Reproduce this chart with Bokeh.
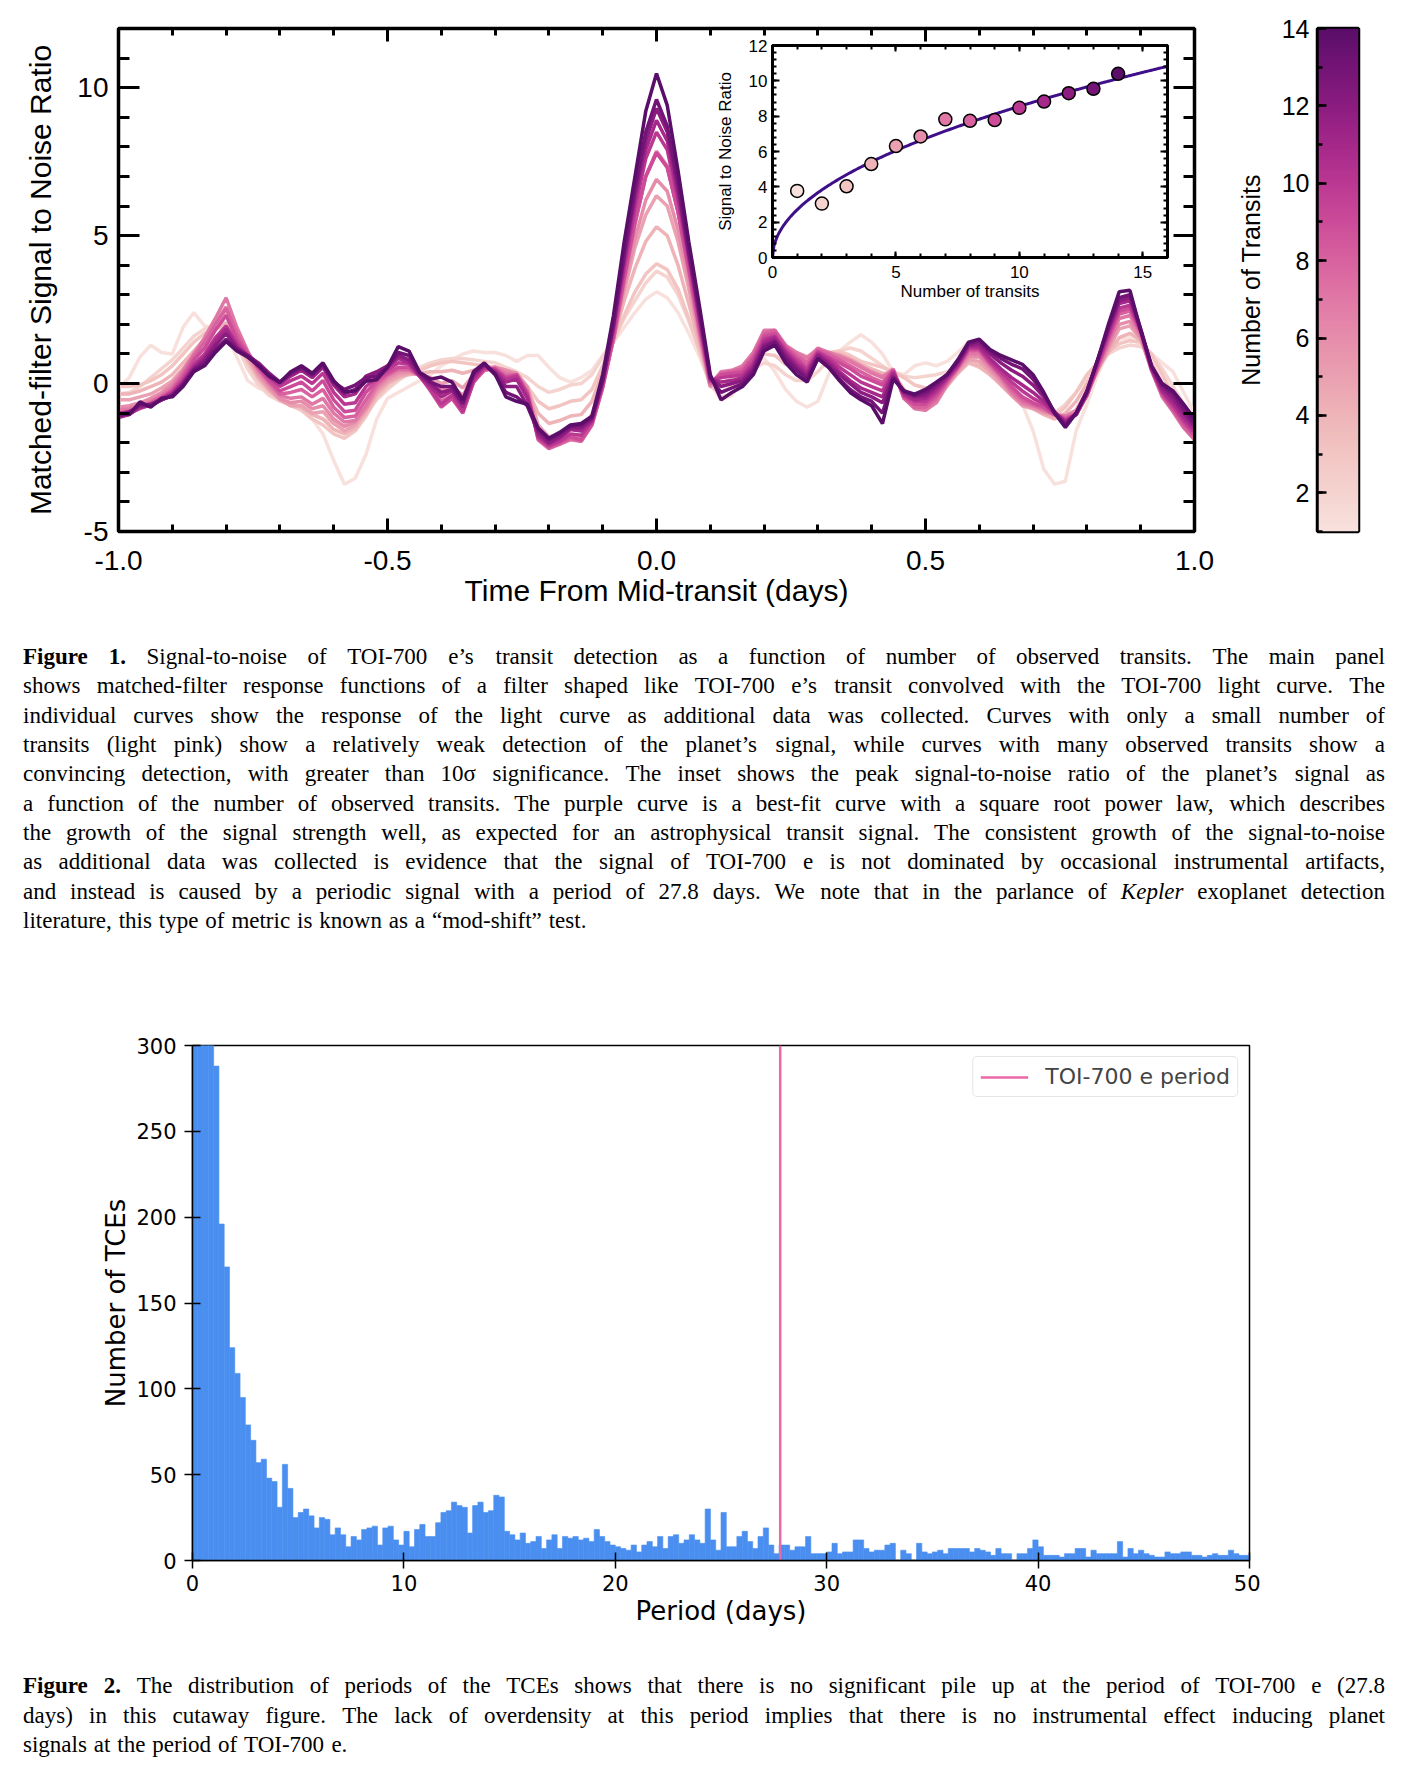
import numpy as np
from bokeh.plotting import figure
from bokeh.models import (Range1d, LinearAxis, SingleIntervalTicker, PrintfTickFormatter,
                          CustomJSTickFormatter, ColumnDataSource, LinearColorMapper, Legend, LegendItem)
from bokeh.layouts import column, row
from bokeh.transform import linear_cmap
from bokeh.core.properties import value
from bokeh.embed import file_html
from bokeh.resources import INLINE

# ---------------------------------------------------------------- data
time_days = [round(-1.0 + 0.02 * i, 2) for i in range(101)]
n_transits = list(range(1, 15))

snr_n1 = [-0.15, 0.20, 0.90, 1.30, 1.05, 1.00, 1.90, 2.40, 1.95, 1.90,
          1.70, 0.90, 0.10, -0.15, -0.25, -0.35, -0.55, -0.90, -1.20, -1.70,
          -2.60, -3.40, -3.20, -2.40, -1.20, -0.50, -0.30, -0.10, 0.10, 0.30,
          0.60, 0.80, 1.00, 1.10, 1.05, 1.05, 0.95, 0.75, 0.95, 0.95,
          0.55, 0.20, 0.05, 0.20, 0.45, 0.95, 1.40, 1.90, 2.40, 2.85,
          3.10, 2.90, 2.40, 1.70, 0.90, 0.00, -0.55, -0.40, 0.20, 0.75,
          0.85, 0.40, -0.20, -0.60, -0.80, -0.60, 0.30, 1.10, 1.40, 1.65,
          1.40, 1.00, 0.40, 0.30, 0.60, 0.70, 0.60, 0.75, 1.05, 1.40,
          0.55, 0.30, 0.30, -0.10, -0.70, -1.60, -2.90, -3.40, -3.30, -1.60,
          -0.70, 0.30, 1.10, 1.50, 1.55, 1.30, 1.00, 0.70, 0.40, -0.30,
          -1.00]
snr_n2 = [-0.35, -0.30, -0.10, 0.20, 0.50, 0.80, 1.20, 1.60, 1.85, 1.95,
          1.85, 1.30, 0.50, -0.05, -0.40, -0.60, -0.70, -0.80, -1.00, -1.20,
          -1.35, -1.45, -1.30, -0.95, -0.55, -0.20, 0.10, 0.35, 0.55, 0.70,
          0.80, 0.85, 0.85, 0.80, 0.75, 0.70, 0.55, 0.40, 0.20, -0.10,
          -0.30, -0.20, -0.05, 0.00, 0.30, 0.90, 1.50, 2.20, 2.80, 3.40,
          3.80, 3.60, 3.00, 2.10, 1.10, 0.05, -0.45, -0.35, 0.05, 0.50,
          0.70, 0.60, 0.30, 0.10, 0.10, 0.40, 0.80, 1.10, 1.20, 1.10,
          0.85, 0.60, 0.35, 0.25, 0.20, 0.25, 0.30, 0.40, 0.55, 0.75,
          0.70, 0.35, 0.05, -0.20, -0.45, -0.65, -0.85, -1.00, -0.70, -0.30,
          0.20, 0.65, 1.00, 1.20, 1.30, 1.25, 1.00, 0.50, -0.10, -0.70,
          -1.20]
snr_n3 = [-0.10, -0.10, -0.05, 0.10, 0.30, 0.60, 1.00, 1.40, 1.70, 1.90,
          1.90, 1.40, 0.70, 0.10, -0.30, -0.55, -0.75, -0.90, -1.20, -1.40,
          -1.70, -1.85, -1.60, -1.10, -0.50, -0.10, 0.15, 0.35, 0.45, 0.60,
          0.70, 0.75, 0.70, 0.65, 0.60, 0.55, 0.35, 0.15, -0.10, -0.60,
          -0.85, -0.75, -0.60, -0.55, -0.20, 0.60, 1.40, 2.30, 3.10, 3.70,
          4.05, 3.85, 3.20, 2.20, 1.10, -0.10, -0.30, -0.10, 0.30, 0.70,
          1.00, 0.95, 0.65, 0.55, 0.60, 0.85, 1.05, 1.10, 0.95, 0.75,
          0.65, 0.55, 0.40, 0.20, -0.05, -0.15, -0.10, 0.10, 0.35, 0.70,
          0.55, 0.30, 0.00, -0.30, -0.55, -0.75, -1.00, -1.10, -0.80, -0.30,
          0.30, 0.70, 1.05, 1.35, 1.45, 1.40, 1.00, 0.30, -0.40, -1.00,
          -1.50]
snr_n4 = [-0.35, -0.35, -0.25, -0.10, 0.05, 0.30, 0.70, 1.10, 1.50, 1.85,
          2.05, 1.50, 0.80, 0.20, -0.20, -0.50, -0.70, -0.80, -1.05, -1.20,
          -1.55, -1.70, -1.50, -1.00, -0.40, 0.00, 0.20, 0.30, 0.35, 0.40,
          0.40, 0.45, 0.35, 0.45, 0.55, 0.55, 0.40, 0.20, -0.20, -1.00,
          -1.35, -1.25, -1.10, -1.05, -0.60, 0.40, 1.50, 2.80, 3.90, 4.80,
          5.30, 5.00, 4.00, 2.70, 1.30, -0.05, 0.00, 0.15, 0.40, 0.85,
          1.30, 1.30, 0.95, 0.85, 0.85, 1.00, 1.05, 1.00, 0.85, 0.65,
          0.50, 0.35, 0.35, -0.20, -0.55, -0.65, -0.55, -0.10, 0.35, 0.70,
          0.60, 0.30, -0.05, -0.40, -0.70, -0.85, -1.05, -1.20, -1.00, -0.60,
          0.00, 0.50, 1.05, 1.55, 1.70, 1.45, 0.70, 0.00, -0.55, -1.10,
          -1.60]
snr_n5 = [-0.55, -0.55, -0.45, -0.35, -0.15, 0.10, 0.50, 1.00, 1.50, 2.00,
          2.40, 1.70, 0.90, 0.25, -0.20, -0.55, -0.75, -0.75, -1.00, -0.95,
          -1.35, -1.60, -1.40, -0.90, -0.30, 0.05, 0.25, 0.35, 0.30, 0.20,
          0.00, 0.10, -0.15, 0.30, 0.50, 0.55, 0.45, 0.35, -0.10, -1.40,
          -1.80, -1.70, -1.55, -1.55, -1.05, 0.15, 1.50, 3.10, 4.60, 5.70,
          6.35, 6.00, 4.80, 3.20, 1.50, -0.10, 0.20, 0.35, 0.55, 1.00,
          1.55, 1.55, 1.15, 0.95, 0.90, 1.05, 1.00, 0.90, 0.75, 0.55,
          0.40, 0.25, 0.40, -0.40, -0.75, -0.85, -0.65, -0.05, 0.40, 0.80,
          0.75, 0.40, 0.00, -0.40, -0.75, -0.85, -1.00, -1.10, -1.10, -0.90,
          -0.25, 0.45, 1.15, 1.85, 1.95, 1.50, 0.50, -0.30, -0.85, -1.40,
          -1.80]
snr_n6 = [-0.80, -0.75, -0.65, -0.50, -0.30, 0.00, 0.45, 1.00, 1.50, 2.05,
          2.60, 1.80, 1.00, 0.35, -0.10, -0.50, -0.65, -0.60, -0.85, -0.75,
          -1.20, -1.45, -1.30, -0.85, -0.20, 0.15, 0.35, 0.40, 0.30, 0.10,
          -0.20, -0.10, -0.40, 0.20, 0.45, 0.55, 0.45, 0.35, -0.15, -1.70,
          -2.05, -1.95, -1.80, -1.85, -1.30, 0.00, 1.50, 3.30, 4.90, 6.20,
          6.90, 6.50, 5.20, 3.50, 1.60, -0.10, 0.30, 0.40, 0.60, 1.05,
          1.70, 1.70, 1.25, 1.05, 0.90, 1.15, 1.05, 0.95, 0.80, 0.60,
          0.40, 0.25, 0.45, -0.45, -0.80, -0.90, -0.65, -0.05, 0.45, 0.90,
          0.90, 0.50, 0.10, -0.35, -0.70, -0.80, -0.95, -1.05, -1.10, -0.90,
          -0.35, 0.45, 1.25, 2.00, 2.10, 1.55, 0.45, -0.40, -0.90, -1.45,
          -1.85]
snr_n7 = [-0.90, -0.85, -0.75, -0.60, -0.40, -0.10, 0.40, 1.00, 1.55, 2.20,
          2.90, 1.90, 1.10, 0.45, 0.00, -0.40, -0.50, -0.45, -0.70, -0.50,
          -1.00, -1.30, -1.25, -0.75, -0.10, 0.25, 0.45, 0.45, 0.30, -0.05,
          -0.40, -0.25, -0.60, 0.10, 0.45, 0.55, 0.35, 0.30, -0.25, -1.85,
          -2.15, -2.05, -1.90, -1.95, -1.40, -0.10, 1.50, 3.50, 5.40, 7.00,
          7.85, 7.35, 5.80, 3.80, 1.70, -0.05, 0.40, 0.45, 0.60, 1.05,
          1.80, 1.80, 1.30, 1.05, 0.85, 1.20, 1.05, 0.90, 0.75, 0.55,
          0.35, 0.20, 0.50, -0.50, -0.85, -0.90, -0.60, 0.00, 0.50, 1.00,
          1.00, 0.60, 0.20, -0.30, -0.65, -0.75, -0.90, -1.05, -1.10, -1.00,
          -0.40, 0.50, 1.35, 2.20, 2.30, 1.65, 0.45, -0.45, -0.95, -1.50,
          -1.90]
snr_n8 = [-1.00, -0.95, -0.80, -0.65, -0.45, -0.20, 0.30, 0.90, 1.40, 2.00,
          2.55, 1.70, 1.05, 0.50, 0.05, -0.35, -0.30, -0.20, -0.45, -0.20,
          -0.80, -1.15, -1.10, -0.55, 0.00, 0.30, 0.50, 0.50, 0.25, -0.15,
          -0.60, -0.40, -0.85, 0.05, 0.45, 0.50, 0.25, 0.30, -0.30, -1.90,
          -2.20, -2.05, -1.85, -1.95, -1.40, -0.15, 1.50, 3.50, 5.40, 7.00,
          7.80, 7.30, 5.80, 3.80, 1.80, 0.00, 0.35, 0.40, 0.50, 0.95,
          1.70, 1.80, 1.25, 0.95, 0.70, 1.15, 1.00, 0.80, 0.60, 0.40,
          0.20, 0.05, 0.45, -0.50, -0.80, -0.80, -0.50, 0.05, 0.55, 1.10,
          1.10, 0.65, 0.25, -0.20, -0.55, -0.70, -0.85, -1.05, -1.15, -1.05,
          -0.40, 0.55, 1.45, 2.35, 2.45, 1.70, 0.50, -0.40, -0.90, -1.45,
          -1.85]
snr_n9 = [-1.10, -1.00, -0.85, -0.70, -0.50, -0.25, 0.20, 0.80, 1.20, 1.80,
          2.30, 1.50, 1.00, 0.55, 0.10, -0.25, -0.10, 0.05, -0.25, 0.10,
          -0.55, -0.95, -0.90, -0.30, 0.10, 0.35, 0.55, 0.55, 0.25, -0.25,
          -0.80, -0.50, -1.00, 0.05, 0.50, 0.50, 0.20, 0.30, -0.35, -1.85,
          -2.15, -2.00, -1.80, -1.90, -1.35, -0.10, 1.60, 3.60, 5.50, 7.00,
          7.80, 7.30, 5.80, 3.90, 1.90, 0.05, 0.30, 0.35, 0.40, 0.85,
          1.60, 1.70, 1.20, 0.85, 0.55, 1.10, 0.90, 0.70, 0.50, 0.25,
          0.10, -0.05, 0.45, -0.45, -0.70, -0.70, -0.40, 0.10, 0.55, 1.15,
          1.15, 0.70, 0.30, -0.10, -0.45, -0.65, -0.80, -1.05, -1.20, -1.05,
          -0.40, 0.60, 1.55, 2.45, 2.55, 1.75, 0.50, -0.35, -0.85, -1.35,
          -1.75]
snr_n10 = [-1.00, -0.95, -0.80, -0.70, -0.50, -0.30, 0.10, 0.65, 1.00, 1.55,
           1.95, 1.35, 0.95, 0.60, 0.20, -0.10, 0.10, 0.25, 0.00, 0.35,
           -0.30, -0.70, -0.65, -0.10, 0.20, 0.45, 0.70, 0.65, 0.25, -0.20,
           -0.70, -0.40, -0.95, 0.10, 0.55, 0.45, 0.15, 0.25, -0.40, -1.80,
           -2.10, -1.95, -1.70, -1.75, -1.30, 0.00, 1.80, 3.90, 5.90, 7.60,
           8.50, 7.90, 6.20, 4.20, 2.10, 0.10, 0.20, 0.25, 0.30, 0.70,
           1.50, 1.60, 1.10, 0.75, 0.45, 1.05, 0.85, 0.55, 0.30, 0.05,
           -0.10, -0.25, 0.40, -0.40, -0.60, -0.60, -0.30, 0.15, 0.60, 1.20,
           1.20, 0.75, 0.40, 0.05, -0.25, -0.50, -0.70, -1.00, -1.25, -1.05,
           -0.35, 0.65, 1.65, 2.55, 2.65, 1.80, 0.50, -0.30, -0.75, -1.25,
           -1.65]
snr_n11 = [-1.15, -1.05, -0.80, -0.75, -0.55, -0.35, 0.05, 0.55, 0.90, 1.45,
           1.85, 1.25, 0.90, 0.65, 0.30, 0.00, 0.25, 0.45, 0.20, 0.55,
           -0.05, -0.45, -0.35, 0.15, 0.35, 0.55, 0.85, 0.70, 0.25, -0.10,
           -0.45, -0.25, -0.80, 0.20, 0.60, 0.40, 0.05, 0.15, -0.50, -1.75,
           -2.05, -1.85, -1.55, -1.60, -1.25, 0.10, 1.90, 4.10, 6.20, 7.90,
           8.90, 8.20, 6.40, 4.30, 2.20, 0.15, 0.05, 0.10, 0.20, 0.60,
           1.40, 1.55, 1.05, 0.65, 0.35, 1.00, 0.75, 0.40, 0.10, -0.15,
           -0.30, -0.45, 0.35, -0.35, -0.55, -0.50, -0.20, 0.20, 0.65, 1.25,
           1.25, 0.85, 0.50, 0.20, -0.05, -0.30, -0.60, -1.00, -1.30, -1.05,
           -0.30, 0.75, 1.75, 2.70, 2.80, 1.80, 0.50, -0.25, -0.65, -1.15,
           -1.55]
snr_n12 = [-1.05, -0.95, -0.75, -0.70, -0.55, -0.40, 0.00, 0.50, 0.80, 1.30,
           1.70, 1.20, 0.95, 0.70, 0.35, 0.05, 0.30, 0.50, 0.25, 0.60,
           0.00, -0.35, -0.20, 0.25, 0.40, 0.60, 0.95, 0.80, 0.30, 0.00,
           -0.30, -0.20, -0.70, 0.30, 0.65, 0.35, -0.10, -0.10, -0.75, -1.65,
           -2.00, -1.80, -1.50, -1.50, -1.20, 0.10, 2.00, 4.30, 6.40, 8.20,
           9.30, 8.50, 6.60, 4.40, 2.30, 0.20, -0.10, 0.00, 0.10, 0.50,
           1.30, 1.45, 0.95, 0.55, 0.25, 0.95, 0.65, 0.30, 0.00, -0.30,
           -0.45, -0.65, 0.25, -0.30, -0.45, -0.40, -0.10, 0.25, 0.70, 1.30,
           1.35, 1.00, 0.70, 0.45, 0.25, -0.05, -0.45, -0.95, -1.35, -1.00,
           -0.25, 0.80, 1.85, 2.80, 2.90, 1.80, 0.55, -0.15, -0.50, -1.00,
           -1.45]
snr_n13 = [-1.10, -1.00, -0.70, -0.75, -0.55, -0.40, -0.05, 0.45, 0.70, 1.15,
           1.50, 1.15, 0.95, 0.65, 0.30, 0.05, 0.35, 0.55, 0.30, 0.65,
           0.05, -0.20, -0.05, 0.20, 0.25, 0.55, 1.05, 0.95, 0.35, 0.05,
           -0.10, -0.10, -0.65, 0.35, 0.65, 0.30, -0.30, -0.45, -0.75, -1.55,
           -1.90, -1.70, -1.45, -1.40, -1.15, 0.10, 2.00, 4.40, 6.60, 8.50,
           9.60, 8.70, 6.80, 4.50, 2.40, 0.20, -0.30, -0.15, 0.00, 0.40,
           1.20, 1.40, 0.85, 0.45, 0.15, 0.85, 0.55, 0.15, -0.20, -0.45,
           -0.60, -1.00, 0.20, -0.25, -0.40, -0.30, 0.00, 0.30, 0.75, 1.35,
           1.45, 1.10, 0.85, 0.65, 0.50, 0.15, -0.35, -1.00, -1.40, -1.00,
           -0.25, 0.80, 1.90, 2.90, 3.00, 1.85, 0.60, -0.05, -0.35, -0.85,
           -1.35]
snr_n14 = [-1.00, -1.05, -0.62, -0.80, -0.50, -0.45, -0.10, 0.40, 0.60, 1.05,
           1.42, 1.10, 0.90, 0.60, 0.25, 0.04, 0.40, 0.60, 0.35, 0.70,
           0.10, -0.28, -0.25, 0.08, 0.13, 0.55, 1.25, 1.10, 0.37, 0.15,
           0.22, 0.05, -0.55, 0.40, 0.70, 0.32, -0.45, -0.60, -0.70, -1.50,
           -1.85, -1.65, -1.40, -1.35, -1.10, 0.30, 2.30, 4.80, 7.00, 9.20,
           10.48, 9.40, 7.20, 4.80, 2.60, 0.30, -0.55, -0.30, -0.10, 0.30,
           1.10, 1.30, 0.70, 0.30, 0.05, 0.85, 0.55, 0.10, -0.30, -0.55,
           -0.75, -1.35, 0.15, -0.25, -0.36, -0.20, 0.05, 0.30, 0.80, 1.40,
           1.50, 1.15, 0.95, 0.80, 0.65, 0.30, -0.30, -1.00, -1.48, -1.00,
           -0.30, 0.80, 2.00, 3.10, 3.15, 1.80, 0.60, 0.00, -0.25, -0.70,
           -1.20]
snr_curves = [snr_n1, snr_n2, snr_n3, snr_n4, snr_n5, snr_n6, snr_n7,
              snr_n8, snr_n9, snr_n10, snr_n11, snr_n12, snr_n13, snr_n14]

# inset: peak SNR vs number of transits
inset_transits = list(range(1, 15))
inset_snr = [3.77, 3.05, 4.03, 5.29, 6.31, 6.85, 7.82, 7.74, 7.78, 8.47, 8.83, 9.30, 9.55, 10.40]

# histogram of TCE periods (0.25-day bins from 0 to 50 days)
period_bin_width = 0.25
tce_counts = [380, 620, 560, 420,
              288, 196, 171, 124, 109, 95, 79, 70, 57, 59,
              48, 46, 31, 56, 42, 25, 28, 30, 26, 19,
              25, 24, 15, 19, 15, 8, 14, 12, 18, 19,
              20, 9, 19, 20, 12, 9, 17, 8, 18, 21,
              14, 14, 22, 28, 29, 34, 32, 31, 16, 32,
              34, 28, 29, 38, 37, 17, 15, 12, 16, 10,
              11, 14, 7, 12, 15, 7, 14, 13, 14, 12,
              13, 11, 18, 14, 11, 9, 8, 7, 6, 9,
              5, 9, 11, 8, 14, 7, 14, 15, 10, 12,
              15, 12, 10, 30, 12, 6, 28, 8, 8, 14,
              17, 11, 7, 14, 19, 9, 4, 9, 9, 6,
              8, 8, 14, 4, 4, 4, 5, 10, 4, 5,
              5, 12, 12, 7, 5, 6, 6, 9, 10, 0,
              6, 4, 0, 10, 5, 4, 5, 6, 4, 7,
              7, 7, 7, 5, 7, 6, 5, 3, 7, 4,
              4, 0, 4, 4, 7, 12, 8, 3, 3, 3,
              2, 4, 4, 7, 7, 2, 6, 4, 4, 4,
              4, 11, 2, 7, 4, 6, 4, 3, 2, 2,
              5, 4, 4, 5, 5, 3, 3, 2, 3, 4,
              3, 3, 6, 4, 3, 3]
toi700e_period = 27.8

caption1_lines = [
    "Figure 1. Signal-to-noise of TOI-700 e’s transit detection as a function of number of observed transits. The main panel",
    "shows matched-filter response functions of a filter shaped like TOI-700 e’s transit convolved with the TOI-700 light curve. The",
    "individual curves show the response of the light curve as additional data was collected. Curves with only a small number of",
    "transits (light pink) show a relatively weak detection of the planet’s signal, while curves with many observed transits show a",
    "convincing detection, with greater than 10σ significance. The inset shows the peak signal-to-noise ratio of the planet’s signal as",
    "a function of the number of observed transits. The purple curve is a best-fit curve with a square root power law, which describes",
    "the growth of the signal strength well, as expected for an astrophysical transit signal. The consistent growth of the signal-to-noise",
    "as additional data was collected is evidence that the signal of TOI-700 e is not dominated by occasional instrumental artifacts,",
    "and instead is caused by a periodic signal with a period of 27.8 days. We note that in the parlance of Kepler exoplanet detection",
    "literature, this type of metric is known as a “mod-shift” test.",
]
caption2_lines = [
    "Figure 2. The distribution of periods of the TCEs shows that there is no significant pile up at the period of TOI-700 e (27.8",
    "days) in this cutaway figure. The lack of overdensity at this period implies that there is no instrumental effect inducing planet",
    "signals at the period of TOI-700 e.",
]

# ---------------------------------------------------------------- colours
anchor_hex = ["#f8e1dd", "#f5d3cf", "#f2c5c3", "#eeb4b7", "#eaa1b1", "#e68dab", "#e078a6",
              "#d8629f", "#cc4c99", "#bb3892", "#a5288a", "#8c1c80", "#741476", "#5a0d69"]
_rgb = np.array([[int(h[i:i + 2], 16) for i in (1, 3, 5)] for h in anchor_hex], float)
_pos = np.linspace(0, 1, len(anchor_hex))
palette = ["#%02x%02x%02x" % tuple(int(round(np.interp(t, _pos, _rgb[:, k]))) for k in range(3))
           for t in np.linspace(0, 1, 256)]
N_LO, N_HI = min(n_transits), max(n_transits)

SANS = "Liberation Sans"
EMPTY = CustomJSTickFormatter(code="return '';")


def style_ax(ax, font, size, maj_in, min_in, lw, standoff, maj_out=0, min_out=0):
    ax.axis_line_color = "black"
    ax.axis_line_width = lw
    ax.major_tick_line_color = "black"
    ax.minor_tick_line_color = "black"
    ax.major_tick_line_width = lw
    ax.minor_tick_line_width = lw
    ax.major_tick_in = int(round(maj_in))
    ax.major_tick_out = int(round(maj_out))
    ax.minor_tick_in = int(round(min_in))
    ax.minor_tick_out = int(round(min_out))
    ax.major_label_text_font = font
    ax.major_label_text_font_size = size
    ax.major_label_text_color = "black"
    ax.major_label_standoff = int(round(standoff))
    ax.axis_label_text_font = font
    ax.axis_label_text_font_style = "normal"
    ax.axis_label_text_color = "black"


def mirror_axis(fig, side, interval, nminor, maj_in, min_in, lw):
    ax = LinearAxis(ticker=SingleIntervalTicker(interval=interval, num_minor_ticks=nminor),
                    formatter=EMPTY)
    style_ax(ax, SANS, "10px", maj_in, min_in, lw, 0)
    fig.add_layout(ax, side)


# ---------------------------------------------------------------- main panel
main = figure(width=1230, height=620, x_range=Range1d(-1, 1), y_range=Range1d(-5, 12),
              toolbar_location=None, output_backend="svg",
              min_border_left=118, min_border_right=36, min_border_top=28, min_border_bottom=89,
              x_axis_label="Time From Mid-transit (days)",
              y_axis_label="Matched-filter Signal to Noise Ratio")
main.grid.visible = False
main.outline_line_color = "black"
main.outline_line_width = 3.5
main.xaxis.ticker = SingleIntervalTicker(interval=0.5, num_minor_ticks=5)
main.yaxis.ticker = SingleIntervalTicker(interval=5, num_minor_ticks=5)
main.xaxis.formatter = PrintfTickFormatter(format="%.1f")
main.yaxis.formatter = PrintfTickFormatter(format="%d")
style_ax(main.xaxis[0], SANS, "28px", 13, 7, 3, 19)
style_ax(main.yaxis[0], SANS, "28px", 21, 11, 3, 10)
main.xaxis.axis_label_text_font_size = "30px"
main.yaxis.axis_label_text_font_size = "30px"
main.xaxis.axis_label_standoff = 1
main.yaxis.axis_label_standoff = 17
mirror_axis(main, "above", 0.5, 5, 13, 7, 3)
mirror_axis(main, "right", 5, 5, 21, 11, 3)

curve_src = ColumnDataSource(dict(xs=[time_days] * len(snr_curves), ys=snr_curves, n=n_transits))
main.multi_line("xs", "ys", source=curve_src, line_width=3.5,
                line_color=linear_cmap("n", palette, N_LO, N_HI))

# ---------------------------------------------------------------- colour bar
cbar = figure(width=140, height=620, x_range=Range1d(0, 1), y_range=Range1d(N_LO, N_HI),
              toolbar_location=None, output_backend="svg", x_axis_location=None,
              min_border_left=87, min_border_right=12, min_border_top=28, min_border_bottom=89,
              y_axis_label="Number of Transits")
cbar.grid.visible = False
cbar.outline_line_color = "black"
cbar.outline_line_width = 3.5
mapper = LinearColorMapper(palette=palette, low=N_LO, high=N_HI)
grad = np.linspace(N_LO, N_HI, 256).reshape(256, 1)
cbar.image(image=[grad], x=0, y=N_LO, dw=1, dh=N_HI - N_LO, color_mapper=mapper)
cbar.yaxis.ticker = SingleIntervalTicker(interval=2, num_minor_ticks=2)
style_ax(cbar.yaxis[0], SANS, "25px", 9, 5, 2.5, 8)
cbar.yaxis.axis_label_text_font_size = "25px"
cbar.yaxis.axis_label_standoff = 14

# ---------------------------------------------------------------- inset
inset = figure(width=475, height=275, x_range=Range1d(0, 16), y_range=Range1d(0, 12),
               toolbar_location=None, output_backend="svg",
               min_border_left=72, min_border_right=8, min_border_top=10, min_border_bottom=53,
               x_axis_label="Number of transits", y_axis_label="Signal to Noise Ratio")
inset.grid.visible = False
inset.border_fill_alpha = 0
inset.background_fill_color = "white"
inset.outline_line_color = "black"
inset.outline_line_width = 3
inset.xaxis.ticker = SingleIntervalTicker(interval=5, num_minor_ticks=5)
inset.yaxis.ticker = SingleIntervalTicker(interval=2, num_minor_ticks=5)
style_ax(inset.xaxis[0], SANS, "17px", 6, 4, 2, 8)
style_ax(inset.yaxis[0], SANS, "17px", 7, 4, 2, 5)
inset.xaxis.axis_label_text_font_size = "17px"
inset.yaxis.axis_label_text_font_size = "17px"
inset.xaxis.axis_label_standoff = 1
inset.yaxis.axis_label_standoff = 11
mirror_axis(inset, "above", 5, 5, 6, 4, 2)
mirror_axis(inset, "right", 2, 5, 7, 4, 2)

n_arr = np.array(inset_transits, float)
s_arr = np.array(inset_snr, float)
fit_amp = float(np.sum(s_arr * np.sqrt(n_arr)) / np.sum(n_arr))   # least-squares sqrt law
fit_x = np.linspace(0, 16, 300)
inset.line(fit_x, fit_amp * np.sqrt(fit_x), line_color="#3f0f8a", line_width=3)
pt_src = ColumnDataSource(dict(n=inset_transits, snr=inset_snr))
inset.scatter("n", "snr", source=pt_src, size=13, line_color="black", line_width=1.5,
              fill_color=linear_cmap("n", palette, N_LO, N_HI))

# ---------------------------------------------------------------- histogram
hist = figure(width=1260, height=700, x_range=Range1d(0, 50), y_range=Range1d(0, 300),
              toolbar_location=None, output_backend="svg",
              min_border_left=192, min_border_right=11, min_border_top=105, min_border_bottom=80,
              x_axis_label="Period (days)", y_axis_label="Number of TCEs")
hist.grid.visible = False
hist.outline_line_color = "black"
hist.outline_line_width = 1.5
hist.xaxis.ticker = SingleIntervalTicker(interval=10, num_minor_ticks=0)
hist.yaxis.ticker = SingleIntervalTicker(interval=50, num_minor_ticks=0)
style_ax(hist.xaxis[0], "DejaVu Sans", "21px", 8, 0, 1.5, 6, maj_out=8)
style_ax(hist.yaxis[0], "DejaVu Sans", "21px", 8, 0, 1.5, 8, maj_out=8)
hist.xaxis.axis_label_text_font_size = "26px"
hist.yaxis.axis_label_text_font_size = "26px"
hist.xaxis.axis_label_standoff = 2
hist.yaxis.axis_label_standoff = 2

bin_left = [i * period_bin_width for i in range(len(tce_counts))]
bin_right = [b + period_bin_width for b in bin_left]
hist.quad(left=bin_left, right=bin_right, bottom=0, top=tce_counts,
          fill_color="#4a8ff0", line_color="#4a8ff0", line_width=0.6)
vline = hist.line(x=[toi700e_period, toi700e_period], y=[0, hist.y_range.end],
                  line_color="#ea68a8", line_width=2.5)
legend = Legend(items=[LegendItem(label="TOI-700 e period", renderers=[vline])],
                location="top_right", margin=11, padding=7, glyph_width=48, glyph_height=24,
                label_standoff=17, label_text_font="DejaVu Sans", label_text_font_size="22px",
                border_line_color="#cccccc", border_line_width=1.5, border_radius=5,
                background_fill_alpha=0.9)
hist.add_layout(legend)

# ---------------------------------------------------------------- captions
TIMES_R = {' ': 250, '(': 333, ')': 333, ',': 250, '-': 333, '.': 250, ':': 278, ';': 278,
           '’': 333, '‘': 333, '“': 444, '”': 444, 'σ': 550,
           'A': 722, 'B': 667, 'C': 667, 'D': 722, 'E': 611, 'F': 556, 'G': 722, 'H': 722,
           'I': 333, 'J': 389, 'K': 722, 'L': 611, 'M': 889, 'N': 722, 'O': 722, 'P': 556,
           'Q': 722, 'R': 667, 'S': 556, 'T': 611, 'U': 722, 'V': 722, 'W': 944, 'X': 722,
           'Y': 722, 'Z': 611,
           'a': 444, 'b': 500, 'c': 444, 'd': 500, 'e': 444, 'f': 333, 'g': 500, 'h': 500,
           'i': 278, 'j': 278, 'k': 500, 'l': 278, 'm': 778, 'n': 500, 'o': 500, 'p': 500,
           'q': 500, 'r': 333, 's': 389, 't': 278, 'u': 500, 'v': 500, 'w': 722, 'x': 500,
           'y': 500, 'z': 444}
TIMES_B = {'F': 611, 'i': 278, 'g': 500, 'u': 556, 'r': 444, 'e': 444, '.': 250}
TIMES_I = {'K': 667, 'e': 444, 'p': 500, 'l': 278, 'r': 389}
CAP_FONT = 23
CAP_W = 1400
CAP_LEFT = 22.5
CAP_TEXT_W = 1362


def word_width(word, style):
    table = {"normal": TIMES_R, "bold": TIMES_B, "italic": TIMES_I}[style]
    total = 0
    for ch in word:
        total += table.get(ch, TIMES_R.get(ch, 500))
    return total * CAP_FONT / 1000.0


def caption_figure(lines, height, first_baseline, pitch):
    fig = figure(width=CAP_W, height=height, x_range=Range1d(0, CAP_W), y_range=Range1d(height, 0),
                 toolbar_location=None, output_backend="svg", min_border=0,
                 x_axis_location=None, y_axis_location=None)
    fig.grid.visible = False
    fig.outline_line_color = None
    data = {s: dict(x=[], y=[], text=[]) for s in ("normal", "bold", "italic")}
    for li, line in enumerate(lines):
        words = line.split(" ")
        styles = []
        for wi, w in enumerate(words):
            if li == 0 and wi < 2:
                styles.append("bold")
            elif w == "Kepler":
                styles.append("italic")
            else:
                styles.append("normal")
        widths = [word_width(w, s) for w, s in zip(words, styles)]
        if li < len(lines) - 1:
            gap = (CAP_TEXT_W - sum(widths)) / (len(words) - 1)
        else:
            gap = 0.3 * CAP_FONT
        x = CAP_LEFT
        y = first_baseline + li * pitch
        for w, s, wd in zip(words, styles, widths):
            data[s]["x"].append(x)
            data[s]["y"].append(y)
            data[s]["text"].append(w)
            x += wd + gap
    for s, d in data.items():
        if d["x"]:
            fig.text(x="x", y="y", text="text", source=ColumnDataSource(d),
                     text_font=value("Liberation Serif"), text_font_size="%dpx" % CAP_FONT,
                     text_font_style=value(s), text_baseline="alphabetic", text_align="left",
                     text_color="black")
    return fig


cap1 = caption_figure(caption1_lines, 320, 36, 29.33)
cap2 = caption_figure(caption2_lines, 130, 45, 29.5)

inset_box = row(inset, styles={"position": "absolute", "left": "700px", "top": "35px", "z-index": "10"})
root = column(row(main, cbar), row(cap1), row(hist), row(cap2), inset_box,
              styles={"position": "relative"})
open("out.html", "w").write(file_html(root, INLINE))
